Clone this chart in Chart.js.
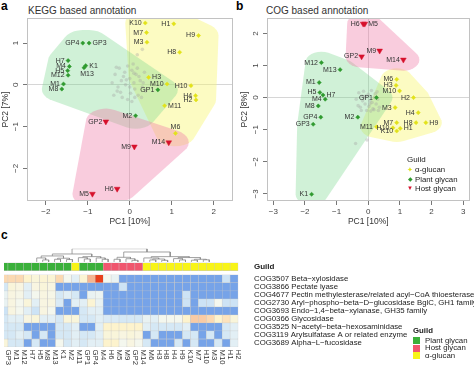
<!DOCTYPE html>
<html>
<head>
<meta charset="utf-8">
<script src="https://cdn.jsdelivr.net/npm/chart.js@4.4.1/dist/chart.umd.min.js"></script>
<style>
  html, body { margin: 0; padding: 0; background: #fff; }
  body { position: relative; width: 474px; height: 366px; overflow: hidden; font-family: "Liberation Sans", Arial, sans-serif; color: #222; }
  canvas, .t { position: absolute; }
  .t { white-space: nowrap; line-height: 1; }
  .tag { font-weight: bold; font-size: 12px; color: #000; }
  .ttl { font-size: 10px; color: #333; }
  .lg { font-size: 7.8px; color: #222; }
  .sw { position: absolute; width: 7px; height: 7px; }
</style>
</head>
<body>
<div class="t tag" style="left:1px;top:0px">a</div>
<div class="t ttl" style="left:28px;top:6px">KEGG based annotation</div>
<div class="t tag" style="left:236px;top:0px">b</div>
<div class="t ttl" style="left:266px;top:6px">COG based annotation</div>
<div class="t tag" style="left:1px;top:229px">c</div>

<canvas id="kegg" width="237" height="232" style="left:0;top:0"></canvas>
<canvas id="cog" width="237" height="232" style="left:237px;top:0"></canvas>
<canvas id="heat" width="474" height="126" style="left:0;top:240px"></canvas>

<!-- legend, panel b -->
<div class="t lg" style="left:407px;top:156px;font-size:8px">Guild</div>
<div class="t lg" style="left:407px;top:166px;color:#e2e21a;font-size:7px">&#10022;</div>
<div class="t lg" style="left:415px;top:166px">&alpha;-glucan</div>
<div class="t lg" style="left:407.5px;top:175.5px;color:#2f9a2f;font-size:6px">&#9670;</div>
<div class="t lg" style="left:415px;top:175.5px">Plant glycan</div>
<div class="t lg" style="left:407px;top:185px;color:#d6112c;font-size:6px">&#9660;</div>
<div class="t lg" style="left:415px;top:185px">Host glycan</div>

<!-- legend, panel c -->
<div class="t lg" style="left:413px;top:327px;font-weight:bold">Guild</div>
<div class="sw" style="left:413px;top:337px;background:#3ab03a"></div>
<div class="t lg" style="left:425px;top:336.5px">Plant glycan</div>
<div class="sw" style="left:413px;top:344.5px;background:#f0566e"></div>
<div class="t lg" style="left:425px;top:344px">Host glycan</div>
<div class="sw" style="left:413px;top:352px;background:#f8f418"></div>
<div class="t lg" style="left:425px;top:351.5px">&alpha;-glucan</div>

<script>
// samples in heatmap column order
const samples = ['GP3','M1','M12','H7','H5','M8','M13','K1','M2','M11','GP1','GP4','M4','H6','M5','M9','GP2','M14','M6','H3','H8','H4','H9','K10','M7','H10','M3','M10','H1','H2'];
const guilds = ['plant','plant','plant','plant','plant','plant','plant','plant','plant','alpha','plant','plant','plant',
                'host','host','host','host','host',
                'alpha','alpha','alpha','alpha','alpha','alpha','alpha','alpha','alpha','alpha','alpha','alpha'];

// PCA, KEGG
const keggPC1 = [-0.97,-1.58,-1.47,-1.47,-1.48,-1.62,-1.09,-1.05,0.14,0.83,0.67,-1.12,-1.44,-0.30,-0.89,0.11,-0.57,0.93,1.09,0.45,1.19,1.57,1.64,0.37,0.40,1.46,0.41,0.89,1.05,1.58];
const keggPC2 = [1.00,0.02,0.23,0.58,0.34,-0.10,0.41,0.46,-0.74,-0.50,-0.12,1.00,0.44,-2.49,-2.61,-1.48,-0.88,-1.38,-1.16,0.18,0.78,-0.26,1.18,1.48,1.25,-0.02,1.02,0.02,1.46,-0.36];
// PCA, COG
const cogPC1 = [-1.74,-1.55,-1.48,-1.43,-1.53,-1.58,-0.89,-1.79,-0.33,0.26,0.26,-1.50,-1.36,-0.16,-0.11,0.36,-0.21,1.11,0.90,0.88,1.51,1.58,1.82,0.90,0.90,0.78,0.85,0.99,1.01,1.43];
const cogPC2 = [-0.83,0.47,1.09,0.08,0.16,-0.26,0.87,-3.01,-0.61,-0.91,0.00,-0.61,-0.05,2.30,2.30,1.46,1.28,1.18,0.57,0.38,-0.78,-0.47,-0.78,-1.04,-0.78,-0.94,-0.31,0.21,-0.96,0.00];

// grey feature cloud near the origin
const keggCloudX = [-0.42,-0.35,-0.3,-0.25,-0.2,-0.18,-0.12,-0.1,-0.05,0,0.02,0.05,0.1,0.12,0.15,0.2,0.25,0.3,0.35,-0.28,-0.15,-0.05,0.08,0.18,0.28,-0.38,0.05,0.22,0.32,0.12,0.18,0.3,-0.32,-0.08,0.0,0.38,-0.22,0.1];
const keggCloudY = [0.05,0.25,-0.15,0.4,0.1,-0.3,0.3,0,0.45,0.15,-0.2,0.35,0.05,-0.1,0.25,-0.25,0.1,-0.05,0.3,-0.05,0.2,-0.35,0.5,0.4,-0.3,-0.25,-0.4,0.2,0.05,-0.3,0.72,0.85,0.42,0.12,-0.05,-0.15,-0.18,0.28];
const cogCloudX = [-0.38,-0.3,-0.25,-0.2,-0.15,-0.1,-0.05,0,0.05,0.1,0.15,0.2,0.25,0.3,0.35,-0.32,-0.18,-0.08,0.02,0.12,0.22,0.32,-0.22,0.08,0.18,-0.4,-0.04,-0.12,0.05,0.28];
const cogCloudY = [-0.05,0.15,-0.3,0.05,0.2,-0.2,-0.4,0.1,-0.1,0.22,-0.35,0,-0.2,-0.05,-0.3,-0.25,-0.1,0.05,-0.28,-0.15,0.12,-0.4,-0.4,-0.42,-0.38,-1.43,-1.32,0.0,-0.2,0.18];

// heatmap
const cogRows = ['COG3507 Beta\u2212xylosidase','COG3866 Pectate lyase','COG4677 Pectin methylesterase/related acyl\u2212CoA thioesterases',
  'COG2730 Aryl\u2212phospho\u2212beta\u2212D\u2212glucosidase BglC, GH1 family','COG3693 Endo\u22121,4\u2212beta\u2212xylanase, GH35 family',
  'COG0366 Glycosidase','COG3525 N\u2212acetyl\u2212beta\u2212hexosaminidase','COG3119 Arylsulfatase A or related enzyme','COG3689 Alpha\u2212L\u2212fucosidase'];
const heat = [
  [1,1,1,0.5,0.3,0.4,0.4,1,0,-0.5,0.4,1.5,3,0,-0.3,-2,-2,-2,-2,-2,-2,-2,-2,-2,-2,-2,-2,-2,-1,-2],
  [-0.8,0.3,0.2,-0.5,0.2,0.3,0.2,-2,-2,-2,-2,-2,-2,-2,-2,-1,-2,-2,-2,-2,-2,-2,-2,-2,-2,-2,-2,-2,-2,-2],
  [-0.3,0.2,0.1,-0.5,0,0.2,0.1,-0.8,-0.5,-0.8,-2,-0.3,-0.2,-2,-2,-2,-2,-2,-2,-2,-2,-2,-2,-1,-2,-2,-2,-2,-2,-2],
  [-0.3,0.2,0,0.3,-0.5,0.2,0.2,-0.7,-2,-0.5,-0.5,0.4,-0.3,-2,-2,-2,-2,-2,-2,-2,-2,-2,-2,-1,-2,-1,-1,0,-1,-1],
  [-1,0.2,0,-0.5,-1,0.2,0,-2,-2,-2,-0.8,-0.5,-0.5,-2,-2,-2,-2,-2,-2,-2,-2,-2,-2,-2,-2,-2,-2,-2,-2,-2],
  [-0.8,-0.5,-0.5,0.2,0.3,-0.5,-0.5,-0.8,0.3,0.3,-0.8,-0.8,-0.5,-0.7,-0.7,-0.8,-0.8,-0.8,-0.3,-0.5,0,0,0,0.5,1.2,1.2,1,0.5,0.8,0.3],
  [-0.8,-0.8,-0.8,-2,-2,-2,-2,-0.8,-0.8,-0.5,-2,-2,-0.5,0.5,0.5,0.5,0.5,0.5,-0.5,-0.8,-0.8,-0.8,-0.8,-0.5,-2,-2,-2,-2,-0.8,-0.5],
  [-0.8,-0.8,-0.5,-0.8,-2,-0.8,-2,-0.8,-0.8,-0.5,-0.8,-0.8,-0.5,0.3,0.3,0.2,0.3,0.2,-2,-0.8,-2,-2,-2,-0.8,-0.8,-2,-0.8,-2,-0.8,-0.5],
  [0.3,-0.8,-0.8,-2,-0.8,-2,-2,0,-0.8,-0.5,-0.8,-0.5,-0.5,0.5,0.5,0,0.2,0,-0.8,-2,-2,-2,-0.8,-2,-0.8,-2,-2,-0.8,-2,-0.5]
];
// column dendrogram: [left, right, height], leaves are column indexes
const colTree = [
  [[[0,[1,2,1.5],3],[[3,4,2],[5,6,1.8],2.8],4.5],
   [[7,[8,9,2.2],3.2],[10,[11,12,2],3],4],6],
  [[[13,14,2],[15,[16,17,1.2],2.4],3.5],
   [[18,[[19,20,1.5],[21,22,1.2],2.2],3],[[23,[24,25,1.5],2.5],[[26,27,1.3],[28,29,1.6],2],3.3],4],7.5],
  10];

Chart.defaults.font.family = '"Liberation Sans", Arial, sans-serif';
Chart.defaults.animation = false;

const groups = [
  {key: 'alpha', color: '#e2e21a', hull: 'rgba(248,246,120,0.45)', style: 'rectRot', r: 2.1, rot: 0},
  {key: 'plant', color: '#2f9a2f', hull: 'rgba(120,215,140,0.35)', style: 'rectRot', r: 2.1, rot: 0},
  {key: 'host', color: '#d6112c', hull: 'rgba(238,120,165,0.38)', style: 'triangle', r: 3.3, rot: 180}
];
const minus = v => v < 0 ? '\u2212' + Math.abs(v) : String(v);

function convexHull(pts) {
  pts.sort((a, b) => a[0] - b[0] || a[1] - b[1]);
  const cross = (o, a, b) => (a[0]-o[0])*(b[1]-o[1]) - (a[1]-o[1])*(b[0]-o[0]);
  const lo = [], up = [];
  for (const p of pts) { while (lo.length >= 2 && cross(lo[lo.length-2], lo[lo.length-1], p) <= 0) lo.pop(); lo.push(p); }
  for (let i = pts.length - 1; i >= 0; i--) { const p = pts[i]; while (up.length >= 2 && cross(up[up.length-2], up[up.length-1], p) <= 0) up.pop(); up.push(p); }
  return lo.slice(0, -1).concat(up.slice(0, -1));
}

const hullPlugin = {
  id: 'hulls',
  beforeDatasetsDraw(chart, args, opts) {
    const {ctx, chartArea: ca, scales: {x, y}} = chart;
    ctx.save();
    ctx.beginPath(); ctx.rect(ca.left, ca.top, ca.width, ca.height); ctx.clip();
    chart.data.datasets.forEach(ds => {
      if (!ds.hullColor) return;
      const pts = [];
      ds.data.forEach(p => {
        const px = x.getPixelForValue(p.x), py = y.getPixelForValue(p.y);
        for (let k = 0; k < 28; k++) {
          const a = k / 28 * Math.PI * 2;
          pts.push([px + opts.rx * Math.cos(a), py + opts.ry * Math.sin(a)]);
        }
      });
      const h = convexHull(pts);
      ctx.beginPath();
      h.forEach((p, i) => i ? ctx.lineTo(p[0], p[1]) : ctx.moveTo(p[0], p[1]));
      ctx.closePath();
      ctx.fillStyle = ds.hullColor;
      ctx.fill();
    });
    ctx.restore();
  }
};

const pcaDecor = {
  id: 'pcaDecor',
  afterDatasetsDraw(chart, args, opts) {
    const {ctx} = chart;
    ctx.save();
    ctx.font = '7px "Liberation Sans", Arial, sans-serif';
    ctx.fillStyle = '#333';
    chart.data.datasets.forEach((ds, di) => {
      if (!ds.hullColor) return;
      chart.getDatasetMeta(di).data.forEach((el, j) => {
        const name = ds.data[j].name;
        if (opts.right.includes(name)) { ctx.textAlign = 'left'; ctx.textBaseline = 'middle'; ctx.fillText(name, el.x + 3.5, el.y); }
        else if (opts.below.includes(name)) { ctx.textAlign = 'center'; ctx.textBaseline = 'top'; ctx.fillText(name, el.x + 3, el.y + 2.5); }
        else if (opts.above.includes(name)) { ctx.textAlign = 'center'; ctx.textBaseline = 'bottom'; ctx.fillText(name, el.x, el.y - 3); }
        else { ctx.textAlign = 'right'; ctx.textBaseline = 'middle'; ctx.fillText(name, el.x - 3.5, el.y); }
      });
    });
    ctx.restore();
  },
  afterDraw(chart) {
    const {ctx, chartArea: ca} = chart;
    const ys = chart.scales.y;
    ctx.save();
    ctx.strokeStyle = '#c2c2c2';
    ctx.lineWidth = 1;
    ctx.strokeRect(Math.round(ca.left) + 0.5, Math.round(ca.top) + 0.5, Math.round(ca.width) - 1, Math.round(ca.height) - 1);
    ctx.font = '8px "Liberation Sans", Arial, sans-serif';
    ctx.fillStyle = '#444';
    ctx.textAlign = 'center'; ctx.textBaseline = 'middle';
    ys.ticks.forEach(t => {
      ctx.save();
      ctx.translate(ca.left - 11, ys.getPixelForValue(t.value));
      ctx.rotate(-Math.PI / 2);
      ctx.fillText(minus(t.value), 0, 0);
      ctx.restore();
    });
    ctx.restore();
  }
};

function pcaChart(id, pc1, pc2, cloudX, cloudY, o) {
  const datasets = groups.map(g => ({
    label: g.key,
    data: samples.map((s, i) => ({x: pc1[i], y: pc2[i], name: s})).filter((p, i) => guilds[i] === g.key),
    hullColor: g.hull,
    pointStyle: g.style, pointRotation: g.rot, pointRadius: g.r,
    backgroundColor: g.color, borderColor: g.color, borderWidth: 0.5
  }));
  datasets.push({
    label: 'features',
    data: cloudX.map((v, i) => ({x: v, y: cloudY[i]})),
    pointRadius: 1.8, backgroundColor: 'rgba(160,160,160,0.35)', borderWidth: 0
  });
  const zeroGrid = c => c.tick && c.tick.value === 0 ? '#d6d6d6' : 'rgba(0,0,0,0)';
  return new Chart(document.getElementById(id), {
    type: 'scatter',
    data: {datasets},
    options: {
      responsive: false,
      layout: {padding: {top: 18, right: o.padRight, left: 0, bottom: 0}},
      plugins: {legend: {display: false}, tooltip: {enabled: false},
        hulls: {rx: o.rx, ry: o.ry},
        pcaDecor: {right: o.right, below: o.below, above: o.above}},
      scales: {
        x: {
          min: o.xr[0], max: o.xr[1],
          ticks: {stepSize: 1, includeBounds: false, color: '#444', font: {size: 8}, padding: 2, maxRotation: 0, callback: v => minus(v)},
          grid: {color: zeroGrid, tickColor: '#777', tickLength: 4, lineWidth: 1},
          border: {display: false},
          title: {display: true, text: 'PC1 [10%]', color: '#333', font: {size: 8.5}, padding: {top: 0, bottom: 4.9}},
          afterFit: s => { s.height = 31; }
        },
        y: {
          min: o.yr[0], max: o.yr[1],
          ticks: {stepSize: 1, includeBounds: false, display: false},
          grid: {color: zeroGrid, tickColor: '#777', tickLength: 4, lineWidth: 1},
          border: {display: false},
          title: {display: true, text: o.yTitle, color: '#333', font: {size: 8.5}, padding: {top: o.yTitlePad, bottom: 0}},
          afterFit: s => { s.width = o.yWidth; }
        }
      }
    },
    plugins: [hullPlugin, pcaDecor]
  });
}

pcaChart('kegg', keggPC1, keggPC2, keggCloudX, keggCloudY, {
  xr: [-2.45, 2.45], yr: [-2.78, 1.6], yWidth: 27, padRight: 4, yTitle: 'PC2 [7%]', yTitlePad: 0.4,
  rx: 20, ry: 13, right: ['GP3', 'K1', 'H3', 'M11'], below: ['M13'], above: ['M6']
});
pcaChart('cog', cogPC1, cogPC2, cogCloudX, cogCloudY, {
  xr: [-3.2, 3.2], yr: [-3.22, 2.48], yWidth: 30, padRight: 2.5, yTitle: 'PC2 [8%]', yTitlePad: 2.9,
  rx: 16, ry: 11, right: ['M5', 'H7', 'H9', 'H1'], below: [], above: []
});

// ---- heatmap ----
const guildColor = {plant: '#3ab03a', host: '#f0566e', alpha: '#f8f418'};
const heatStops = [[-2,[118,163,232]],[-1,[205,227,245]],[-0.5,[226,239,245]],[0,[244,247,238]],[0.5,[253,243,205]],[1,[251,217,178]],[1.5,[245,181,146]],[3,[232,64,28]]];
function heatColor(v) {
  for (let i = 1; i < heatStops.length; i++) {
    const [v1, c1] = heatStops[i], [v0, c0] = heatStops[i-1];
    if (v <= v1) {
      const t = Math.max(0, (v - v0) / (v1 - v0));
      return 'rgb(' + c0.map((c, k) => Math.round(c + (c1[k] - c) * t)).join(',') + ')';
    }
  }
  return 'rgb(232,64,28)';
}

const dendroSegs = [];
function walk(node) {
  if (typeof node === 'number') return {x: node, h: 0};
  const l = walk(node[0]), r = walk(node[1]);
  dendroSegs.push([[l.x, l.h], [l.x, node[2]], [r.x, node[2]], [r.x, r.h]]);
  return {x: (l.x + r.x) / 2, h: node[2]};
}
walk(colTree);
const hY = h => -0.1 - h * 0.165;

const cellW = (242 - 4) / samples.length;
const cellBase = {type: 'bar', stack: 's', categoryPercentage: 1, barPercentage: 1, barThickness: cellW,
  borderWidth: 0.5, borderColor: 'rgba(195,195,195,0.9)', borderSkipped: false, xAxisID: 'x', yAxisID: 'y'};
const heatDatasets = [
  Object.assign({}, cellBase, {label: 'Guild', data: samples.map(() => 1), backgroundColor: guilds.map(g => guildColor[g])}),
  Object.assign({}, cellBase, {label: 'gap', data: samples.map(() => 0.5), backgroundColor: 'rgba(0,0,0,0)', borderWidth: 0})
];
cogRows.forEach((name, r) => heatDatasets.push(Object.assign({}, cellBase, {label: name, data: samples.map(() => 1), backgroundColor: heat[r].map(heatColor)})));
dendroSegs.forEach(seg => heatDatasets.push({
  type: 'line', xAxisID: 'xd', yAxisID: 'yd',
  data: seg.map(p => ({x: p[0], y: hY(p[1])})),
  borderColor: '#8a8a8a', borderWidth: 0.8, pointRadius: 0, fill: false, tension: 0
}));

const rowTickVals = [0.5].concat(cogRows.map((n, i) => 2 + i));
const rowTickText = ['Guild'].concat(cogRows);

const colLabels = {
  id: 'colLabels',
  afterDraw(chart) {
    const {ctx, chartArea: ca} = chart;
    const xs = chart.scales.x;
    ctx.save();
    ctx.font = '7.8px "Liberation Sans", Arial, sans-serif';
    ctx.fillStyle = '#333';
    ctx.textAlign = 'left'; ctx.textBaseline = 'middle';
    samples.forEach((s, i) => {
      ctx.save();
      ctx.translate(xs.getPixelForValue(i), ca.bottom + 2.5);
      ctx.rotate(Math.PI / 2);
      ctx.fillText(s, 0, 0);
      ctx.restore();
    });
    ctx.restore();
  }
};

new Chart(document.getElementById('heat'), {
  type: 'bar',
  data: {labels: samples, datasets: heatDatasets},
  options: {
    responsive: false,
    datasets: {bar: {categoryPercentage: 1, barPercentage: 1}},
    layout: {padding: {top: 8, left: 4, right: 0, bottom: 19}},
    plugins: {legend: {display: false}, tooltip: {enabled: false}},
    scales: {
      x: {type: 'category', display: false, stacked: true, offset: true},
      y: {
        type: 'linear', position: 'right', stacked: true, reverse: true, min: -1.75, max: 10.5,
        grid: {display: false}, border: {display: false},
        afterBuildTicks: s => { s.ticks = rowTickVals.map(v => ({value: v})); },
        ticks: {autoSkip: false, padding: 4, color: '#222',
          callback: (v, i) => rowTickText[i],
          font: c => c.index === 0 ? {size: 8, weight: 'bold'} : {size: 7.8}},
        afterFit: s => { s.width = 232; }
      },
      xd: {type: 'linear', axis: 'x', display: false, min: -0.5, max: 29.5},
      yd: {type: 'linear', axis: 'y', display: false, min: -1.75, max: 10.5, reverse: true}
    }
  },
  plugins: [colLabels]
});
</script>
</body>
</html>
